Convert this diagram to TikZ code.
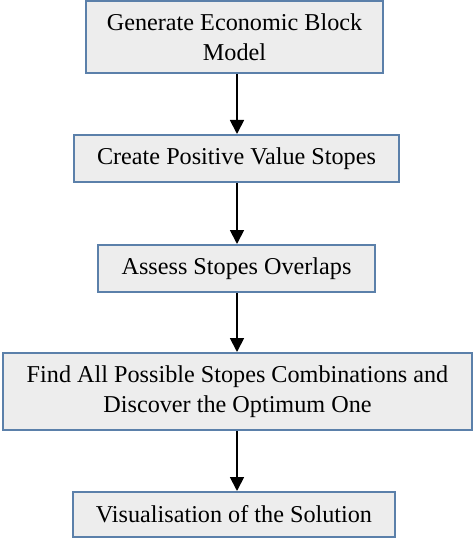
\documentclass[tikz,border=0pt]{standalone}
\usepackage{fontspec}
\setmainfont{Liberation Serif}
\usetikzlibrary{arrows.meta}
\definecolor{boxfill}{HTML}{EDEDED}
\definecolor{boxline}{HTML}{5B80AA}
\begin{document}
\begin{tikzpicture}[x=1pt,y=-1pt,
  stepbox/.style={draw=boxline, line width=2pt, fill=boxfill, inner sep=0pt,
    align=center, font=\fontsize{24.2}{30}\selectfont, anchor=center},
  arr/.style={line width=1.8pt, -{Triangle[width=14pt,length=14pt]}}]
\useasboundingbox (0,0) rectangle (474,540);
\node[stepbox, minimum width=297pt, minimum height=72pt] (a) at (234.5,37) {Generate Economic Block\\Model};
\node[stepbox, minimum width=325pt, minimum height=47pt] (b) at (236.5,158.5) {Create Positive Value Stopes};
\node[stepbox, minimum width=277pt, minimum height=47pt] (c) at (236.5,268.5) {Assess Stopes Overlaps};
\node[stepbox, minimum width=469pt, minimum height=77pt] (d) at (237.5,391.5) {Find All Possible Stopes Combinations and\\Discover the Optimum One};
\node[stepbox, minimum width=322pt, minimum height=45pt] (e) at (234,514.5) {Visualisation of the Solution};
\coordinate (ax) at (237,0);
\draw[arr] (a.south -| ax) -- (b.north -| ax);
\draw[arr] (b.south -| ax) -- (c.north -| ax);
\draw[arr] (c.south -| ax) -- (d.north -| ax);
\draw[arr] (d.south -| ax) -- (e.north -| ax);
\end{tikzpicture}
\end{document}
